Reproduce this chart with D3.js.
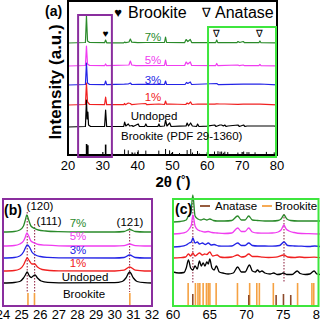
<!DOCTYPE html>
<html>
<head>
<meta charset="utf-8">
<script src="https://cdn.jsdelivr.net/npm/d3@7"></script>
<style>
body { margin: 0; background: #fff; }
svg { display: block; font-family: "Liberation Sans", Arial, sans-serif; }
</style>
</head>
<body>
<svg id="chart" width="320" height="320"></svg>
<script>
/* ---- data: [2theta, intensity above baseline] ---- */
var samples = ["7%", "5%", "3%", "1%", "Undoped"]

// panel (a), full range 20-80
var a7 = [[20,0],[25.0,0.5],[25.3,27],[25.6,2],[26.2,0.5],[30.5,0.3],[30.8,3],[31.1,0.2],[36.0,0.2],[36.3,1],[36.6,0.3],[37.5,1],[37.9,4],[38.3,0.8],[40.0,0.3],[42.3,0.5],[47.7,0.5],[48.0,6],[48.3,0.5],[53.5,0.4],[53.9,3.5],[54.4,1.5],[55.1,3.5],[55.5,0.4],[62.4,0.4],[62.7,3],[63.0,0.4],[68.5,0.4],[68.8,1.5],[69.3,0.5],[70.3,1.5],[70.7,0.3],[74.8,0.3],[75.1,2],[75.4,0.3],[80,0.2]]
var a5 = [[20,0],[25.0,0.5],[25.3,20],[25.6,2],[26.2,0.5],[30.5,0.3],[30.8,2],[31.1,0.3],[37.5,1],[37.9,5],[38.3,1],[39.5,0.3],[47.7,0.5],[48.0,6],[48.3,0.5],[53.5,0.5],[53.9,4],[54.4,2],[55.1,4],[55.5,0.5],[62.4,0.4],[62.7,2.5],[63.0,0.4],[68.8,1],[69.2,0.3],[70.3,1],[70.7,0.3],[74.8,0.3],[75.1,1.5],[75.4,0.3],[80,0.2]]
var a3 = [[20,0],[25.0,0.5],[25.3,22],[25.6,2],[26.2,0.5],[30.5,0.3],[30.8,4],[31.1,0.3],[36.2,0.8],[37.3,1],[37.9,2],[38.3,0.5],[40.1,0.6],[42.3,0.6],[46.1,0.6],[47.7,0.5],[48.0,4],[48.3,0.5],[53.6,0.5],[54.0,2.5],[54.4,1.5],[55.1,3],[55.5,0.5],[62.7,1.5],[63.2,0.3],[70.3,0.8],[75.1,1],[80,0.2]]
var a1 = [[20,0],[25.0,0.5],[25.3,22],[25.6,3],[26.2,0.5],[30.5,0.3],[30.8,8],[31.1,0.3],[36.0,0.3],[36.2,1.5],[36.5,0.3],[37.3,2],[37.9,1.5],[38.3,0.3],[40.1,1],[42.3,1.5],[42.6,0.3],[46.1,1],[47.7,0.5],[48.0,4],[48.3,0.8],[49.2,1],[53.8,0.5],[54.2,2],[54.6,1],[55.2,3],[55.6,0.5],[57.2,1],[62.1,0.8],[62.7,1.2],[63.6,1],[65.0,1],[68.8,0.6],[70.3,0.8],[75.1,0.8],[80,0.2]]
var a0 = [[20,0],[25.0,0.5],[25.3,27],[25.5,8],[25.7,15],[25.9,2],[26.5,0.5],[30.5,0.5],[30.8,17],[31.1,0.5],[32.8,0.5],[36.0,0.5],[36.25,5],[36.6,1],[37.3,3],[37.7,1],[38.4,1.5],[38.7,0.5],[40.15,3],[40.5,0.5],[42.0,0.5],[42.35,3],[42.7,0.5],[45.8,0.5],[46.1,3],[46.4,0.5],[47.7,1],[48.0,7],[48.4,1],[49.2,4],[49.6,0.5],[52.0,0.8],[53.9,1],[54.2,4],[54.6,1],[55.2,4],[55.7,1],[56.9,0.5],[57.2,3],[57.6,0.5],[59.9,0.8],[62.1,2],[62.5,0.5],[63.6,2],[64.1,2],[64.6,1],[65.0,2],[65.4,0.5],[65.9,1],[68.8,2],[69.2,0.5],[70.4,2],[70.8,0.5],[71.4,1],[73.6,1],[76.9,1],[79.2,1],[80,0.3]]

// brookite PDF 29-1360 reference lines
var refPos = [25.34,25.69,30.81,32.79,36.25,37.30,38.37,38.58,39.21,40.15,42.34,46.07,48.01,49.17,49.69,52.01,54.20,55.23,55.72,57.18,57.69,59.99,62.06,63.05,63.65,64.10,64.60,65.02,65.87,68.77,70.43,71.40,71.94,73.70,76.95,79.20]
var refInt = [100,80,90,4,25,18,6,4,5,18,16,16,30,18,3,3,20,30,5,13,2,4,10,12,9,10,4,9,7,5,10,7,7,6,8,6]

// panel (b), 24-32
var b7 = [[24,0],[24.6,0.5],[24.9,2],[25.1,6],[25.2,12],[25.28,17],[25.38,12],[25.5,6],[25.7,3.5],[25.9,2],[26.3,1],[27,0.3],[28,0],[30,0],[30.5,0.5],[30.8,2.5],[31.1,0.5],[31.6,0],[32,0]]
var b5 = [[24,0],[24.6,0.5],[24.9,2],[25.1,5],[25.2,9],[25.28,13],[25.38,10],[25.5,5],[25.7,3],[25.9,1.5],[26.3,0.8],[27,0.2],[28,0],[30,0],[30.5,0.4],[30.8,2],[31.1,0.4],[31.6,0],[32,0]]
var b3 = [[24,0],[24.6,0.5],[24.9,2],[25.1,6],[25.2,10],[25.3,13],[25.42,11],[25.55,6],[25.75,3],[26,1.5],[26.4,0.6],[27,0.2],[30,0],[30.5,0.5],[30.8,3],[31.1,0.5],[31.6,0],[32,0]]
var b1 = [[24,0],[24.6,0.5],[24.9,2],[25.1,6],[25.2,10],[25.3,13],[25.42,10],[25.55,7],[25.7,7],[25.85,4],[26.1,1.5],[26.5,0.5],[27,0.2],[30,0],[30.5,0.8],[30.8,4],[31.1,0.8],[31.6,0],[32,0]]
var b0 = [[24,0],[24.6,0.5],[24.9,1.5],[25.1,5],[25.2,8],[25.3,11],[25.42,7],[25.52,5.5],[25.62,7],[25.72,8],[25.85,5],[26.05,2],[26.4,0.6],[27,0.2],[30,0.3],[30.4,1.5],[30.6,5],[30.8,11],[31.0,5],[31.2,1.5],[31.6,0.3],[32,0]]
var bBrookite = [25.34, 25.69, 30.81]
var bIndex = ["(120)", "(111)", "(121)"]

// panel (c), 60-80
var c7 = [[60,0],[61,0.5],[61.8,2],[62.1,6],[62.4,8],[62.7,27],[63.0,6],[63.4,3],[63.8,2],[64.2,3],[64.6,2],[65.0,3],[65.5,1.5],[66,1],[67,1],[68,1.5],[68.8,6],[69.3,2],[69.8,2],[70.3,6],[70.8,2],[71.5,1.5],[72.5,1],[73.5,1],[74.3,1.5],[74.7,3],[75.1,7],[75.5,3],[76,1.5],[77,1],[78,1],[79,1],[80,1]]
var c5 = [[60,0],[61,0.5],[61.8,2],[62.2,5],[62.5,9],[62.7,19],[63.0,8],[63.4,4],[63.8,3],[64.3,2],[64.8,2.5],[65.3,1.5],[66,1],[67,0.5],[68,1],[68.8,6],[69.3,2.5],[69.8,2.5],[70.3,6],[70.8,2],[71.5,1],[72.5,0.8],[73.5,1],[74.3,2],[74.7,4],[75.1,9],[75.4,5],[75.8,3],[76.5,1.5],[77.5,0.5],[78.5,0.3],[80,0]]
var c3 = [[60,0],[61,0.5],[61.8,2],[62.2,4],[62.5,5],[62.7,9],[63.0,4],[63.3,5],[63.6,3],[64.0,4],[64.4,2.5],[64.8,4],[65.2,2],[65.6,2.5],[66.2,1],[67,0.8],[68,1],[68.8,4],[69.3,1.5],[69.8,1.5],[70.3,4],[70.8,1.5],[71.5,1],[72.5,1],[73.5,0.8],[74.5,1.5],[75.1,5],[75.6,1.5],[76.5,1],[77.5,0.8],[78.5,0.5],[79.3,1],[80,0.5]]
var c1 = [[60,0],[61,0.3],[61.7,1],[62.1,4],[62.4,2],[62.7,5],[63.0,2],[63.6,5],[64.0,3],[64.3,4],[64.6,3.5],[65.0,6],[65.4,2],[66.0,3],[66.4,1],[67,0.5],[68,1],[68.8,3],[69.3,1],[69.8,1.5],[70.3,4],[70.8,1.5],[71.5,1.5],[72.2,0.8],[73,0.5],[74,0.8],[75.1,3],[75.6,1],[76.5,0.5],[77.2,1],[78,0.5],[79.2,0.8],[80,0.3]]
var c0 = [[60,4],[60.8,3],[61.5,3.5],[61.8,8],[62.1,16],[62.4,8],[62.7,6],[63.0,10],[63.3,7],[63.6,15],[63.85,10],[64.1,13],[64.35,10],[64.6,14],[64.8,12],[65.0,17],[65.3,8],[65.6,6],[65.9,10],[66.3,4],[66.8,3],[67.5,2],[68.2,3],[68.8,9],[69.3,4],[69.8,4],[70.4,11],[70.8,5],[71.2,4],[71.5,6],[71.8,4],[72.1,5],[72.5,3],[73.2,2],[73.7,3],[74.2,1.5],[74.7,2],[75.0,3],[75.5,1.5],[76.2,1.5],[76.9,5],[77.3,2.5],[78,1.5],[78.6,2],[79.2,5],[79.6,2],[80,1.5]]
var cBrookite = [62.06,63.05,63.40,63.65,64.10,64.55,64.80,65.02,65.87,68.77,70.43,71.40,71.75,73.65,76.95,78.90,79.15]
var cAnatase = [62.69,70.31,74.03,75.03,76.02]
var cAnataseInt = [12,11,11,12,11]

var aTicks = [20,30,40,50,60,70,80]
var bTicks = [24,25,26,27,28,29,30,31,32]
var cTicks = [60,65,70,75,80]

/* ---- styles ---- */
var sampleColors = ["#2a8a2a", "#f03cf0", "#2323e6", "#f02020", "#000000"]
var purple = "#8a2e9e"
var brightGreen = "#3ee63e"
var orange = "#f5a142"
var brown = "#8c4a2a"
var dotColor = "#8b1a3a"

var svg = d3.select("#chart")

/* ---- panel (a) ---- */
var xA = d3.scaleLinear().domain([20, 80]).range([68, 277])
var yA = d3.scaleLinear().domain([0, 155]).range([155, 0])
var offsetsA = [112, 89, 70, 50, 28]
var tracesA = [a7, a5, a3, a1, a0]

var gA = svg.append("g")

tracesA.forEach(function(tr, i) {
  var line = d3.line()
    .x(function(d) { return xA(d[0]) })
    .y(function(d) { return yA(d[1] + offsetsA[i]) })
  gA.append("path")
    .attr("d", line(tr))
    .attr("fill", "none")
    .attr("stroke", sampleColors[i])
    .attr("stroke-width", 1.2)
    .attr("stroke-linejoin", "round")
})

var refScale = d3.scaleSqrt().domain([0, 100]).range([0, 11])
gA.selectAll(".refA")
  .data(refPos)
  .enter()
  .append("line")
  .attr("x1", function(d) { return xA(d) })
  .attr("x2", function(d) { return xA(d) })
  .attr("y1", yA(0))
  .attr("y2", function(d, i) { return yA(refScale(refInt[i])) })
  .attr("stroke", "#000")
  .attr("stroke-width", function(d, i) { return refInt[i] > 50 ? 1.6 : 1 })

// frame
gA.append("rect")
  .attr("x", xA(20)).attr("y", 1)
  .attr("width", xA(80) - xA(20)).attr("height", yA(0) - 1)
  .attr("fill", "none").attr("stroke", "#000").attr("stroke-width", 2)

gA.selectAll(".tickA")
  .data(aTicks)
  .enter()
  .append("line")
  .attr("x1", function(d) { return xA(d) })
  .attr("x2", function(d) { return xA(d) })
  .attr("y1", yA(0)).attr("y2", yA(0) - 3)
  .attr("stroke", "#000").attr("stroke-width", 1.2)

gA.selectAll(".tickAText")
  .data(aTicks)
  .enter()
  .append("text")
  .text(function(d) { return d })
  .attr("x", function(d) { return xA(d) })
  .attr("y", 170)
  .attr("text-anchor", "middle")
  .attr("font-size", 13)

// zoom boxes
gA.append("rect")
  .attr("x", xA(22.9)).attr("y", 15)
  .attr("width", xA(32.6) - xA(22.9)).attr("height", 142)
  .attr("fill", "none").attr("stroke", purple).attr("stroke-width", 2)
gA.append("rect")
  .attr("x", xA(60.2)).attr("y", 27)
  .attr("width", xA(80) - xA(60.2) - 1).attr("height", 130)
  .attr("fill", "none").attr("stroke", brightGreen).attr("stroke-width", 2)

var xlab = gA.append("text")
  .attr("x", 173).attr("y", 187)
  .attr("text-anchor", "middle")
  .attr("font-size", 15).attr("font-weight", "bold")
xlab.append("tspan").text("2θ (")
xlab.append("tspan").text("°").attr("font-size", 11).attr("dy", -4)
xlab.append("tspan").text(")").attr("dy", 4)

gA.append("text")
  .text("Intensity (a.u.)")
  .attr("transform", "translate(61,82) rotate(-90)")
  .attr("text-anchor", "middle")
  .attr("font-size", 17).attr("font-weight", "bold")

gA.append("text").text("(a)")
  .attr("x", 45).attr("y", 16)
  .attr("font-size", 14).attr("font-weight", "bold")

gA.append("text").text("♥")
  .attr("x", 118).attr("y", 17).attr("text-anchor", "middle")
  .attr("font-size", 13)
gA.append("text").text("Brookite")
  .attr("x", 128).attr("y", 18).attr("font-size", 16)
gA.append("text").text("∇")
  .attr("x", 206).attr("y", 17).attr("text-anchor", "middle")
  .attr("font-size", 13)
gA.append("text").text("Anatase")
  .attr("x", 215).attr("y", 18).attr("font-size", 16)

// peak markers on the 7% trace
gA.append("text").text("♥")
  .attr("x", xA(30.8)).attr("y", yA(offsetsA[0] + 6))
  .attr("text-anchor", "middle").attr("font-size", 10)
gA.selectAll(".anaMark")
  .data([62.7, 75.1])
  .enter()
  .append("text").text("∇")
  .attr("x", function(d) { return xA(d) })
  .attr("y", yA(offsetsA[0] + 6))
  .attr("text-anchor", "middle").attr("font-size", 10)

var labelsA = [[153, 41], [153, 64], [153, 84], [153, 101], [154, 120]]
samples.forEach(function(s, i) {
  gA.append("text").text(s)
    .attr("x", labelsA[i][0]).attr("y", labelsA[i][1])
    .attr("text-anchor", "middle")
    .attr("font-size", 11.5)
    .attr("fill", sampleColors[i])
})
gA.append("text").text("Brookite (PDF 29-1360)")
  .attr("x", 121).attr("y", 140).attr("font-size", 11.5)

/* ---- panel (b) ---- */
var xB = d3.scaleLinear().domain([24, 32]).range([3, 152])
var yB = d3.scaleLinear().domain([0, 107]).range([306, 199])
var offsetsB = [74, 60, 48, 35, 23]
var tracesB = [b7, b5, b3, b1, b0]
var gB = svg.append("g")

var dotB = [[25.3, 94], [25.7, 82], [30.8, 78]]
gB.selectAll(".dotB")
  .data(dotB)
  .enter()
  .append("line")
  .attr("x1", function(d) { return xB(d[0]) })
  .attr("x2", function(d) { return xB(d[0]) })
  .attr("y1", function(d) { return yB(d[1]) })
  .attr("y2", yB(14))
  .attr("stroke", dotColor).attr("stroke-width", 1)
  .attr("stroke-dasharray", "1.5,1.5")

tracesB.forEach(function(tr, i) {
  var line = d3.line()
    .x(function(d) { return xB(d[0]) })
    .y(function(d) { return yB(d[1] + offsetsB[i]) })
    .curve(d3.curveMonotoneX)
  gB.append("path")
    .attr("d", line(tr))
    .attr("fill", "none")
    .attr("stroke", sampleColors[i])
    .attr("stroke-width", 1.3)
})

gB.selectAll(".barB")
  .data(bBrookite)
  .enter()
  .append("line")
  .attr("x1", function(d) { return xB(d) })
  .attr("x2", function(d) { return xB(d) })
  .attr("y1", yB(0)).attr("y2", yB(13))
  .attr("stroke", orange).attr("stroke-width", 1.6)

gB.append("rect")
  .attr("x", xB(24)).attr("y", yB(107))
  .attr("width", xB(32) - xB(24)).attr("height", yB(0) - yB(107))
  .attr("fill", "none").attr("stroke", purple).attr("stroke-width", 2)

gB.selectAll(".tickBText")
  .data(bTicks)
  .enter()
  .append("text")
  .text(function(d) { return d })
  .attr("x", function(d) { return xB(d) })
  .attr("y", 318.5)
  .attr("text-anchor", "middle")
  .attr("font-size", 13)

gB.append("text").text("(b)")
  .attr("x", 4).attr("y", 215)
  .attr("font-size", 14).attr("font-weight", "bold")
var indexPosB = [[40, 210], [49, 225], [130, 226]]
bIndex.forEach(function(s, i) {
  gB.append("text").text(s)
    .attr("x", indexPosB[i][0]).attr("y", indexPosB[i][1])
    .attr("text-anchor", "middle").attr("font-size", 11.5)
})
var labelsB = [[78, 227], [78, 240], [78, 254], [78, 267], [85, 281]]
samples.forEach(function(s, i) {
  gB.append("text").text(s)
    .attr("x", labelsB[i][0]).attr("y", labelsB[i][1])
    .attr("text-anchor", "middle")
    .attr("font-size", 11.5)
    .attr("fill", sampleColors[i])
})
gB.append("text").text("Brookite")
  .attr("x", 84).attr("y", 298).attr("text-anchor", "middle")
  .attr("font-size", 11.5)

/* ---- panel (c) ---- */
var xC = d3.scaleLinear().domain([60, 80]).range([173, 320])
var yC = d3.scaleLinear().domain([0, 107]).range([306, 199])
var offsetsC = [84, 72, 59, 48, 30]
var tracesC = [c7, c5, c3, c1, c0]
var gC = svg.append("g")

var dotC = [[62.7, 106], [75.1, 92]]
gC.selectAll(".dotC")
  .data(dotC)
  .enter()
  .append("line")
  .attr("x1", function(d) { return xC(d[0]) })
  .attr("x2", function(d) { return xC(d[0]) })
  .attr("y1", function(d) { return yC(d[1]) })
  .attr("y2", yC(23))
  .attr("stroke", dotColor).attr("stroke-width", 1)
  .attr("stroke-dasharray", "1.5,1.5")

tracesC.forEach(function(tr, i) {
  var line = d3.line()
    .x(function(d) { return xC(d[0]) })
    .y(function(d) { return yC(d[1] + offsetsC[i]) })
    .curve(d3.curveMonotoneX)
  gC.append("path")
    .attr("d", line(tr))
    .attr("fill", "none")
    .attr("stroke", sampleColors[i])
    .attr("stroke-width", 1.3)
})

gC.selectAll(".barCb")
  .data(cBrookite)
  .enter()
  .append("line")
  .attr("x1", function(d) { return xC(d) })
  .attr("x2", function(d) { return xC(d) })
  .attr("y1", yC(0)).attr("y2", yC(23))
  .attr("stroke", orange).attr("stroke-width", 1.6)
gC.selectAll(".barCa")
  .data(cAnatase)
  .enter()
  .append("line")
  .attr("x1", function(d) { return xC(d) })
  .attr("x2", function(d) { return xC(d) })
  .attr("y1", yC(0))
  .attr("y2", function(d, i) { return yC(cAnataseInt[i]) })
  .attr("stroke", brown).attr("stroke-width", 1.6)

gC.append("rect")
  .attr("x", xC(60)).attr("y", yC(107))
  .attr("width", xC(80) - xC(60) - 1.5).attr("height", yC(0) - yC(107))
  .attr("fill", "none").attr("stroke", brightGreen).attr("stroke-width", 2)

gC.selectAll(".tickCText")
  .data(cTicks)
  .enter()
  .append("text")
  .text(function(d) { return d })
  .attr("x", function(d) { return xC(d) })
  .attr("y", 318.5)
  .attr("text-anchor", "middle")
  .attr("font-size", 13)

gC.append("text").text("(c)")
  .attr("x", 175).attr("y", 214)
  .attr("font-size", 14).attr("font-weight", "bold")
gC.append("line")
  .attr("x1", 200).attr("x2", 210).attr("y1", 206).attr("y2", 206)
  .attr("stroke", brown).attr("stroke-width", 1.8)
gC.append("text").text("Anatase")
  .attr("x", 215).attr("y", 210).attr("font-size", 11.5)
gC.append("line")
  .attr("x1", 262).attr("x2", 272).attr("y1", 206).attr("y2", 206)
  .attr("stroke", orange).attr("stroke-width", 1.8)
gC.append("text").text("Brookite")
  .attr("x", 275).attr("y", 210).attr("font-size", 11.5)
</script>
</body>
</html>
